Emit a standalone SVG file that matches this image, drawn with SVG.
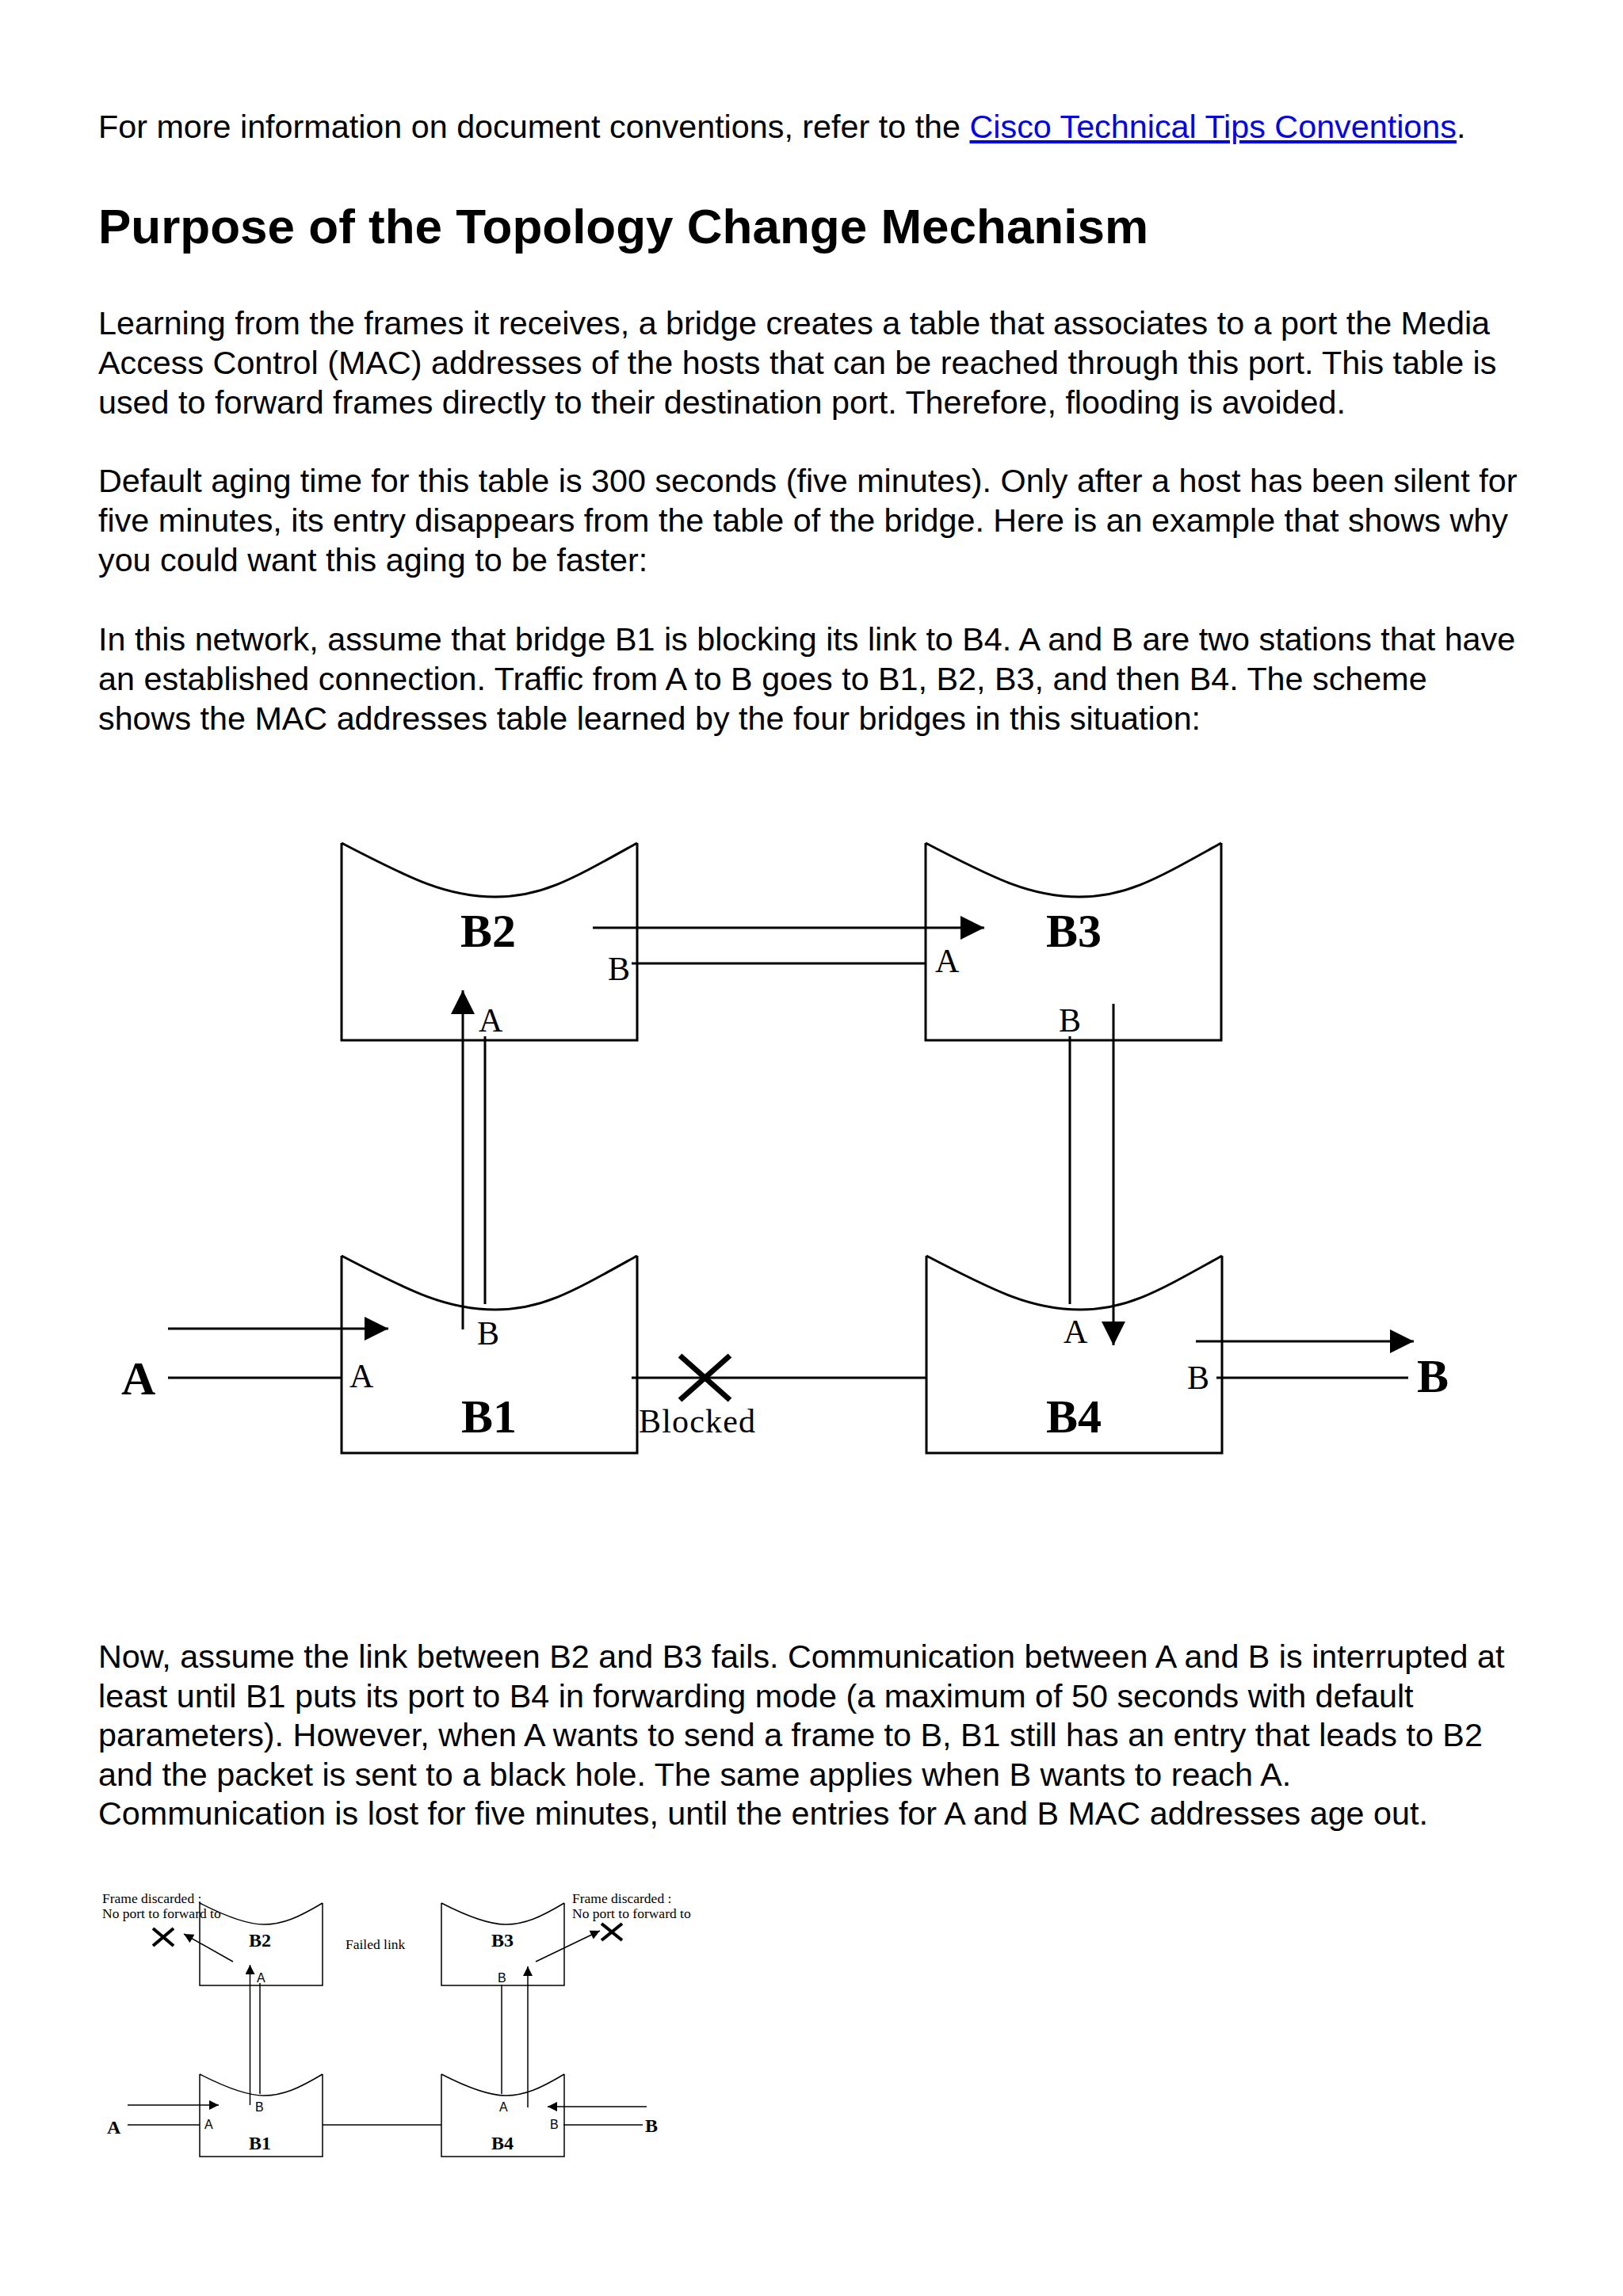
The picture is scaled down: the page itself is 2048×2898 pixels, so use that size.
<svg xmlns="http://www.w3.org/2000/svg" xmlns:xlink="http://www.w3.org/1999/xlink" width="2048" height="2898" viewBox="0 0 2048 2898">
<style>
.t{font-family:"Liberation Sans",Arial,sans-serif;font-size:41.3px;fill:#000}
.h{font-family:"Liberation Sans",Arial,sans-serif;font-size:62px;font-weight:bold;fill:#000}
.lk{fill:#0000ee}
.sh1{fill:none;stroke:#000;stroke-width:3}
.sh2{fill:none;stroke:#000;stroke-width:1.5}
.c1{fill:none;stroke:#000;stroke-width:3}
.c2{fill:none;stroke:#000;stroke-width:1.5}
.x1{stroke:#000;stroke-width:7}
.x2{stroke:#000;stroke-width:4}
.bb{font-family:"Liberation Serif","Times New Roman",serif;font-weight:bold;font-size:60px;fill:#000}
.pl{font-family:"Liberation Serif","Times New Roman",serif;font-size:42px;fill:#000}
.bb2{font-family:"Liberation Serif","Times New Roman",serif;font-weight:bold;font-size:24px;fill:#000}
.pl2{font-family:"Liberation Sans",Arial,sans-serif;font-size:16px;fill:#000}
.nt2{font-family:"Liberation Serif","Times New Roman",serif;font-size:17.5px;fill:#000}
</style>
<defs>
<marker id="ah1" viewBox="0 0 10 10" refX="10" refY="5" markerWidth="33" markerHeight="30" markerUnits="userSpaceOnUse" orient="auto"><path d="M0,0 L10,5 L0,10 z" fill="#000"/></marker>
<marker id="ah2" viewBox="0 0 10 10" refX="10" refY="5" markerWidth="13" markerHeight="12" markerUnits="userSpaceOnUse" orient="auto"><path d="M0,0 L10,5 L0,10 z" fill="#000"/></marker>
<path id="br1" class="sh1" d="M0,0 V249 H373 V0 M0,0 C90,47 134,68 194,68 C254,68 292,45 373,0"/>
<path id="br2" class="sh2" d="M0,0 V104 H155 V0 M0,0 C35,18 60,27 81,27 C105,27 125,18 155,0"/>
</defs>
<rect width="2048" height="2898" fill="#fff"/>

<g id="text">
<text class="t" x="124" y="174">For more information on document conventions, refer to the <tspan class="lk" text-decoration="underline">Cisco Technical Tips Conventions</tspan>.</text>
<text class="h" x="124" y="307">Purpose of the Topology Change Mechanism</text>
<text class="t" x="124" y="422">Learning from the frames it receives, a bridge creates a table that associates to a port the Media</text>
<text class="t" x="124" y="472">Access Control (MAC) addresses of the hosts that can be reached through this port. This table is</text>
<text class="t" x="124" y="522">used to forward frames directly to their destination port. Therefore, flooding is avoided.</text>
<text class="t" x="124" y="621">Default aging time for this table is 300 seconds (five minutes). Only after a host has been silent for</text>
<text class="t" x="124" y="671">five minutes, its entry disappears from the table of the bridge. Here is an example that shows why</text>
<text class="t" x="124" y="721">you could want this aging to be faster:</text>
<text class="t" x="124" y="821">In this network, assume that bridge B1 is blocking its link to B4. A and B are two stations that have</text>
<text class="t" x="124" y="871">an established connection. Traffic from A to B goes to B1, B2, B3, and then B4. The scheme</text>
<text class="t" x="124" y="921">shows the MAC addresses table learned by the four bridges in this situation:</text>
<text class="t" x="124" y="2105">Now, assume the link between B2 and B3 fails. Communication between A and B is interrupted at</text>
<text class="t" x="124" y="2155">least until B1 puts its port to B4 in forwarding mode (a maximum of 50 seconds with default</text>
<text class="t" x="124" y="2204">parameters). However, when A wants to send a frame to B, B1 still has an entry that leads to B2</text>
<text class="t" x="124" y="2254">and the packet is sent to a black hole. The same applies when B wants to reach A.</text>
<text class="t" x="124" y="2303">Communication is lost for five minutes, until the entries for A and B MAC addresses age out.</text>
</g>

<!-- Diagram 1 -->
<g id="d1-connectors">
<line class="c1" x1="748" y1="1171" x2="1242" y2="1171" marker-end="url(#ah1)"/>
<line class="c1" x1="797" y1="1216" x2="1168" y2="1216"/>
<line class="c1" x1="584" y1="1678" x2="584" y2="1250" marker-end="url(#ah1)"/>
<line class="c1" x1="612" y1="1308" x2="612" y2="1646"/>
<line class="c1" x1="1350" y1="1308" x2="1350" y2="1646"/>
<line class="c1" x1="1405" y1="1267" x2="1405" y2="1698" marker-end="url(#ah1)"/>
<line class="c1" x1="212" y1="1677" x2="490" y2="1677" marker-end="url(#ah1)"/>
<line class="c1" x1="212" y1="1739" x2="431" y2="1739"/>
<line class="c1" x1="797" y1="1739" x2="1169" y2="1739"/>
<line class="c1" x1="1509" y1="1693" x2="1784" y2="1693" marker-end="url(#ah1)"/>
<line class="c1" x1="1535" y1="1739" x2="1777" y2="1739"/>
<line class="x1" x1="858" y1="1711" x2="921" y2="1767"/>
<line class="x1" x1="921" y1="1711" x2="858" y2="1767"/>
<text class="pl" x="806" y="1808" textLength="147">Blocked</text>
</g>
<g id="d1-B2">
<use xlink:href="#br1" x="431" y="1064"/>
<text class="bb" x="581" y="1195">B2</text>
<text class="pl" x="767" y="1237">B</text>
<text class="pl" x="604" y="1302">A</text>
</g>
<g id="d1-B3">
<use xlink:href="#br1" x="1168" y="1064"/>
<text class="bb" x="1320" y="1195">B3</text>
<text class="pl" x="1180" y="1227">A</text>
<text class="pl" x="1336" y="1302">B</text>
</g>
<g id="d1-B1">
<use xlink:href="#br1" x="431" y="1585"/>
<text class="bb" x="582" y="1808">B1</text>
<text class="pl" x="602" y="1697">B</text>
<text class="pl" x="441" y="1751">A</text>
</g>
<g id="d1-B4">
<use xlink:href="#br1" x="1169" y="1585"/>
<text class="bb" x="1320" y="1808">B4</text>
<text class="pl" x="1342" y="1695">A</text>
<text class="pl" x="1498" y="1753">B</text>
</g>
<g id="d1-A"><text class="bb" x="153" y="1760">A</text></g>
<g id="d1-B"><text class="bb" x="1788" y="1757">B</text></g>

<!-- Diagram 2 -->
<g id="d2-connectors">
<line class="c2" x1="315.5" y1="2657" x2="315.5" y2="2480" marker-end="url(#ah2)"/>
<line class="c2" x1="328" y1="2503" x2="328" y2="2643"/>
<line class="c2" x1="294" y1="2476" x2="232" y2="2441" marker-end="url(#ah2)"/>
<line class="c2" x1="633" y1="2505" x2="633" y2="2643"/>
<line class="c2" x1="666" y1="2660" x2="666" y2="2482" marker-end="url(#ah2)"/>
<line class="c2" x1="676" y1="2476" x2="757" y2="2437" marker-end="url(#ah2)"/>
<line class="c2" x1="161" y1="2657" x2="276" y2="2657" marker-end="url(#ah2)"/>
<line class="c2" x1="161" y1="2682" x2="252" y2="2682"/>
<line class="c2" x1="407" y1="2682" x2="557" y2="2682"/>
<line class="c2" x1="816" y1="2659" x2="691" y2="2659" marker-end="url(#ah2)"/>
<line class="c2" x1="711" y1="2682" x2="811" y2="2682"/>
<line class="x2" x1="193" y1="2434" x2="219" y2="2456"/>
<line class="x2" x1="219" y1="2434" x2="193" y2="2456"/>
<line class="x2" x1="759" y1="2428" x2="785" y2="2449"/>
<line class="x2" x1="785" y1="2428" x2="759" y2="2449"/>
<text class="nt2" x="129" y="2402">Frame discarded :</text>
<text class="nt2" x="129" y="2421">No port to forward to</text>
<text class="nt2" x="722" y="2402">Frame discarded :</text>
<text class="nt2" x="722" y="2421">No port to forward to</text>
<text class="nt2" x="436" y="2460">Failed link</text>
</g>
<g id="d2-B2">
<use xlink:href="#br2" x="252" y="2402"/>
<text class="bb2" x="314" y="2457">B2</text>
<text class="pl2" x="324" y="2502">A</text>
</g>
<g id="d2-B3">
<use xlink:href="#br2" x="557" y="2402"/>
<text class="bb2" x="620" y="2457">B3</text>
<text class="pl2" x="628" y="2502">B</text>
</g>
<g id="d2-B1">
<use xlink:href="#br2" x="252" y="2618"/>
<text class="bb2" x="314" y="2713">B1</text>
<text class="pl2" x="322" y="2665">B</text>
<text class="pl2" x="258" y="2687">A</text>
</g>
<g id="d2-B4">
<use xlink:href="#br2" x="557" y="2618"/>
<text class="bb2" x="620" y="2713">B4</text>
<text class="pl2" x="630" y="2665">A</text>
<text class="pl2" x="694" y="2687">B</text>
</g>
<g id="d2-A"><text class="bb2" x="135" y="2693">A</text></g>
<g id="d2-B"><text class="bb2" x="814" y="2691">B</text></g>
</svg>
